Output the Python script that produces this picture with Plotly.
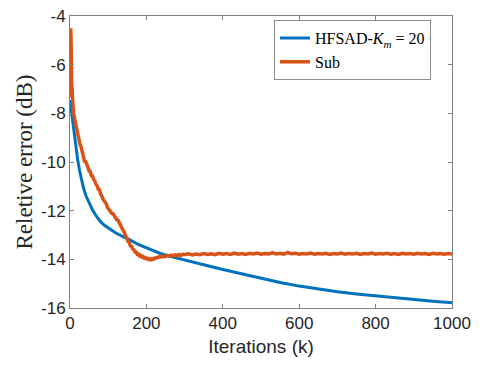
import plotly.graph_objects as go

# ---- data ----
blue_k = [0, 3, 6, 10, 15, 20, 25, 30, 35, 42, 50, 60, 70, 80, 90, 105, 120, 140, 157,
          180, 209, 235, 262, 290, 314, 350, 400, 450, 500, 550, 600, 650, 700, 750,
          800, 850, 900, 950, 1000]
blue_err = [-7.45, -7.85, -8.25, -8.7, -9.3, -9.9, -10.35, -10.75, -11.05, -11.4, -11.7,
            -12.0, -12.25, -12.45, -12.6, -12.75, -12.92, -13.08, -13.2, -13.4, -13.6,
            -13.75, -13.88, -13.98, -14.08, -14.22, -14.42, -14.6, -14.78, -14.95,
            -15.1, -15.22, -15.33, -15.42, -15.5, -15.58, -15.65, -15.72, -15.78]

sub_k = [0, 1, 2, 3, 4, 5, 6, 8, 10, 12, 15, 18, 20, 23, 26, 29, 32, 35, 38, 41, 44, 47,
         50, 53, 56, 59, 62, 65, 68, 71, 74, 77, 80, 83, 86, 89, 92, 95, 98, 101, 104,
         107, 110, 113, 116, 119, 122, 125, 128, 131, 134, 137, 140, 143, 146, 149, 152,
         155, 158, 161, 164, 167, 170, 173, 176, 179, 182, 185, 188, 191, 194, 197, 200,
         203, 206, 209, 212, 215, 218, 221, 224, 227, 230, 235, 240, 245, 250, 255, 260,
         265, 270, 275, 280, 285, 290, 295,
         300, 310, 320, 330, 340, 350, 360, 370, 380, 390, 400, 410, 420, 430, 440, 450,
         460, 470, 480, 490, 500, 510, 520, 530, 540, 550, 560, 570, 580, 590, 600, 610,
         620, 630, 640, 650, 660, 670, 680, 690, 700, 710, 720, 730, 740, 750, 760, 770,
         780, 790, 800, 810, 820, 830, 840, 850, 860, 870, 880, 890, 900, 910, 920, 930,
         940, 950, 960, 970, 980, 990, 1000]
sub_err = [-7.35, -6.2, -4.5, -5.2, -6.6, -7.2, -7.5, -7.75, -8.05, -8.2, -8.45, -8.72,
           -8.95, -9.08, -9.27, -9.38, -9.62, -9.78, -9.97, -9.98, -10.17, -10.22, -10.37,
           -10.38, -10.57, -10.58, -10.72, -10.78, -10.92, -10.97, -11.12, -11.13, -11.32,
           -11.38, -11.52, -11.57, -11.67, -11.72, -11.87, -11.93, -12.02, -12.03, -12.12,
           -12.13, -12.22, -12.27, -12.37, -12.38, -12.47, -12.53, -12.67, -12.73, -12.87,
           -12.93, -13.07, -13.13, -13.27, -13.3, -13.44, -13.46, -13.57, -13.6, -13.7,
           -13.7, -13.79, -13.78, -13.86, -13.84, -13.9, -13.88, -13.95, -13.93, -13.98,
           -13.96, -14.01, -13.98, -14.02, -13.98, -14.0, -13.95, -13.96, -13.92, -13.93,
           -13.88, -13.9, -13.87, -13.88, -13.84, -13.87, -13.83, -13.86, -13.81, -13.85,
           -13.8, -13.84, -13.79,
           -13.80, -13.77, -13.82, -13.78, -13.81, -13.76, -13.80, -13.77, -13.81, -13.75,
           -13.79, -13.76, -13.80, -13.74, -13.79, -13.76, -13.80, -13.75, -13.78, -13.74,
           -13.79, -13.76, -13.78, -13.73, -13.78, -13.75, -13.79, -13.72, -13.77, -13.75,
           -13.79, -13.76, -13.78, -13.74, -13.79, -13.76, -13.78, -13.75, -13.80, -13.76,
           -13.78, -13.74, -13.79, -13.76, -13.78, -13.75, -13.80, -13.76, -13.78, -13.74,
           -13.79, -13.76, -13.78, -13.75, -13.79, -13.76, -13.80, -13.75, -13.78, -13.76,
           -13.79, -13.75, -13.78, -13.76, -13.80, -13.75, -13.78, -13.76, -13.79, -13.76,
           -13.78]

x_ticks = [0, 200, 400, 600, 800, 1000]
x_ticklabels = ["0", "200", "400", "600", "800", "1000"]
y_ticks = [-16, -14, -12, -10, -8, -6, -4]
y_ticklabels = ["-16", "-14", "-12", "-10", "-8", "-6", "-4"]

series_names = ["HFSAD-<i>K</i><sub><i>m</i></sub> = 20", "Sub"]

# ---- figure ----
fig = go.Figure()
fig.add_trace(go.Scatter(x=blue_k, y=blue_err, mode="lines", name=series_names[0],
                         line=dict(color="#0072BD", width=3)))
fig.add_trace(go.Scatter(x=sub_k, y=sub_err, mode="lines", name=series_names[1],
                         line=dict(color="#D95319", width=3.5)))

axis_common = dict(showgrid=False, zeroline=False, showline=True, linecolor="#808080",
                   linewidth=1, mirror="ticks", ticks="inside", ticklen=4,
                   tickcolor="#808080", automargin=False,
                   tickfont=dict(family="Liberation Sans, Arial", size=17, color="#262626"))

fig.update_layout(
    width=501, height=380,
    margin=dict(l=70, r=49, t=16, b=72),
    paper_bgcolor="white", plot_bgcolor="white",
    xaxis=dict(range=[0, 1000], tickvals=x_ticks, ticktext=x_ticklabels,
               title=dict(text="Iterations (k)", standoff=7,
                          font=dict(family="Liberation Sans, Arial", size=19, color="#262626")),
               **axis_common),
    yaxis=dict(range=[-16, -4], tickvals=y_ticks, ticktext=y_ticklabels,
               title=dict(text="Reletive error (dB)", standoff=1,
                          font=dict(family="Liberation Serif, serif", size=23, color="#262626")),
               **axis_common),
    legend=dict(x=0.945, xanchor="right", y=0.986, yanchor="top",
                bgcolor="white", bordercolor="#8c8c8c", borderwidth=1,
                font=dict(family="Liberation Serif, serif", size=16, color="#000000"),
                tracegroupgap=0),
    showlegend=True,
)

fig.write_html("out.html", config={"displayModeBar": False},
               post_script="document.body.style.margin='0';")
